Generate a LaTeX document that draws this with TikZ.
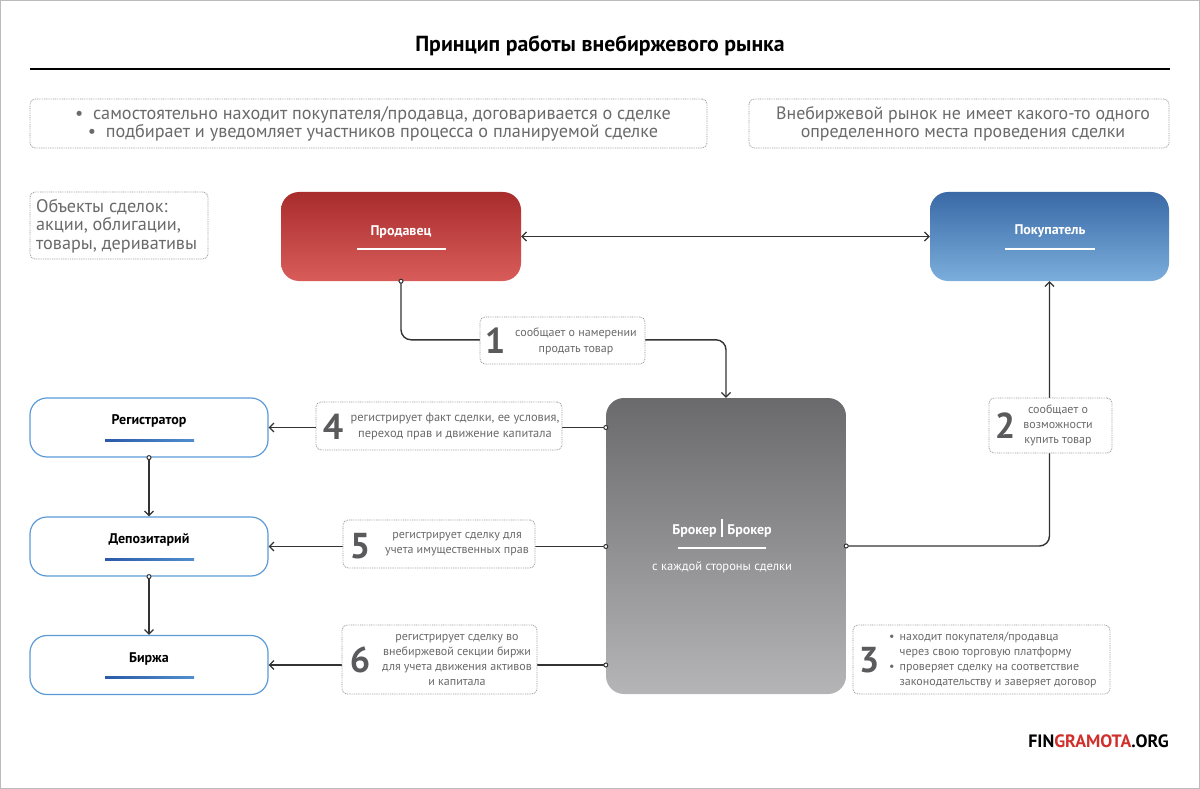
\documentclass[tikz,border=0pt]{standalone}
\usepackage{fontspec}
\setmainfont{PT Sans}
\usetikzlibrary{arrows.meta,calc}
\definecolor{lineC}{HTML}{333333}
\definecolor{noteC}{HTML}{9A9A9A}
\definecolor{noteT}{HTML}{6A6A6A}
\definecolor{numC}{HTML}{5A5A5C}
\definecolor{redTop}{HTML}{A92C2C}
\definecolor{redBot}{HTML}{D85D5A}
\definecolor{bluTop}{HTML}{3A69A6}
\definecolor{bluBot}{HTML}{7BAEDC}
\definecolor{grTop}{HTML}{6A6A6C}
\definecolor{grBot}{HTML}{B5B5B7}
\definecolor{blueB}{HTML}{5B9BD8}
\definecolor{blueL}{HTML}{2B5AA8}
\definecolor{logoR}{HTML}{D0302B}
\definecolor{frameC}{HTML}{BBBBBB}
\begin{document}
\begin{tikzpicture}[x=1pt,y=-1pt,
  conn/.style={draw=lineC, line width=1.4pt, rounded corners=10pt},
  dottip/.style={{Circle[length=5pt,fill=white,line width=1pt]}-{Straight Barb[length=4.5pt,width=9pt,line width=1.2pt]}, shorten <=-2.5pt},
  bothtip/.style={{Straight Barb[length=4.5pt,width=9pt,line width=1.2pt]}-{Straight Barb[length=4.5pt,width=9pt,line width=1.2pt]}},
  note/.style={draw=noteC, dash pattern=on 0.9pt off 0.9pt, line width=0.8pt, rounded corners=5pt, fill=white, inner sep=0pt},
  mainbox/.style={rounded corners=18pt, inner sep=0pt, shading=axis},
  bluebox/.style={draw=blueB, line width=1.2pt, fill=white, rounded corners=17pt, inner sep=0pt, minimum width=238pt, minimum height=59pt},
  numtxt/.style={text=numC, font=\bfseries\fontsize{36}{36}\selectfont, inner sep=0pt},
  smalltxt/.style={text=noteT, font=\fontsize{12}{15}\selectfont, align=center, inner sep=0pt},
  bigtxt/.style={text=noteT, font=\fontsize{18.2}{18.6}\selectfont, align=center, inner sep=0pt},
  wtitle/.style={text=white, font=\bfseries\fontsize{14}{16}\selectfont, inner sep=0pt},
  btitle/.style={text=black, font=\bfseries\fontsize{14}{16}\selectfont, inner sep=0pt}
]
\useasboundingbox (0,0) rectangle (1200,789);
\draw[frameC, line width=1pt] (0.5,0.5) rectangle (1199.5,788.5);

% title
\node[anchor=base, font=\bfseries\fontsize{21.8}{24}\selectfont, inner sep=0pt] (title) at (600,51.5) {Принцип работы внебиржевого рынка};
\draw[black, line width=1.4pt] (30,69) -- (1170,69);

% top notes
\node[note, minimum width=677pt, minimum height=49pt] (topL) at (368.5,123.5) {};
\node[bigtxt] (topLt) at (373,124) {•\ \ самостоятельно находит покупателя/продавца, договаривается о сделке\\ •\ \ подбирает и уведомляет участников процесса о планируемой сделке};
\node[note, minimum width=420pt, minimum height=49pt] (topR) at (959,123.5) {};
\node[bigtxt, font=\fontsize{17.9}{18.6}\selectfont] (topRt) at (963,124) {Внебиржевой рынок не имеет какого-то одного\\ определенного места проведения сделки};
\node[note, minimum width=178pt, minimum height=67pt] (objs) at (119,225.5) {};
\node[bigtxt, align=left, anchor=west] (objst) at (36,226) {Объекты сделок:\\ акции, облигации,\\ товары, деривативы};

% main boxes
\node[mainbox, top color=redTop, bottom color=redBot, minimum width=240pt, minimum height=89pt] (seller) at (401,236.5) {};
\node[mainbox, top color=bluTop, bottom color=bluBot, minimum width=239pt, minimum height=89pt] (buyer) at (1049.5,236.5) {};
\node[mainbox, top color=grTop, bottom color=grBot, minimum width=240pt, minimum height=296pt] (broker) at (726,546) {};

\node[wtitle] (sellerT) at (401,231.5) {Продавец};
\draw[white, line width=2pt] (357,249) -- (446,249);
\node[wtitle] (buyerT) at (1050,231.5) {Покупатель};
\draw[white, line width=2pt] (1005,249) -- (1095,249);
\node[wtitle] (brokerT) at (722,528) {Брокер\hspace{4.5pt}\raisebox{-3pt}{\rule{1.6pt}{18pt}}\hspace{4.5pt}Брокер};
\draw[white, line width=2pt] (678,548) -- (766,548);
\node[text=white, font=\fontsize{12.5}{14}\selectfont, inner sep=0pt] (brokerS) at (722,567) {с каждой стороны сделки};

% left blue boxes
\node[bluebox] (reg) at (149,427.5) {};
\node[bluebox] (dep) at (149,546.5) {};
\node[bluebox] (exch) at (149,665) {};
\node[btitle] (regT) at (149,421) {Регистратор};
\node[btitle] (depT) at (149,540) {Депозитарий};
\node[btitle] (exchT) at (149,659) {Биржа};
\shade[left color=blueL, right color=blueB!80!blueL] (105,439) rectangle (194,441);
\shade[left color=blueL, right color=blueB!80!blueL] (105,558) rectangle (194,560);
\shade[left color=blueL, right color=blueB!80!blueL] (105,676) rectangle (194,678);

% connectors
\draw[conn, bothtip] (seller.east) -- (buyer.west);
\draw[conn, dottip] (seller.south) |- ($(broker.north)+(0,-58)$) -- (broker.north);
\draw[conn, dottip] (broker.east) -| (buyer.south);
\draw[conn, dottip] (broker.west |- reg.east) -- (reg.east);
\draw[conn, dottip] (broker.west |- dep.east) -- (dep.east);
\draw[conn, dottip] (broker.west |- exch.east) -- (exch.east);
\draw[conn, dottip] (reg.south) -- (dep.north);
\draw[conn, dottip] (dep.south) -- (exch.north);

% step notes
\node[note, minimum width=165pt, minimum height=47pt] (n1) at (562.5,340.5) {};
\node[numtxt] (n1n) at (495,341) {1};
\node[smalltxt, font=\fontsize{12}{15.8}\selectfont] (n1t) at (576,341) {сообщает о намерении\\ продать товар};

\node[note, minimum width=123pt, minimum height=55pt] (n2) at (1050.5,425.5) {};
\node[numtxt] (n2n) at (1005,426) {2};
\node[smalltxt] (n2t) at (1058,425.5) {сообщает о\\ возможности\\ купить товар};

\node[note, minimum width=257pt, minimum height=69pt] (n3) at (981.5,659.5) {};
\node[numtxt] (n3n) at (869,660) {3};
\node[smalltxt, anchor=west] (n3t) at (889,660) {\begin{tabular}{@{}l@{\hspace{5pt}}l@{}}•&находит покупателя/продавца\\ &через свою торговую платформу\\ •&проверяет сделку на соответствие\\ &законодательству и заверяет договор\end{tabular}};

\node[note, minimum width=246pt, minimum height=48pt] (n4) at (439,426) {};
\node[numtxt] (n4n) at (333,427) {4};
\node[smalltxt, font=\fontsize{12.4}{16}\selectfont] (n4t) at (455,426) {регистрирует факт сделки, ее условия,\\ переход прав и движение капитала};

\node[note, minimum width=192pt, minimum height=48pt] (n5) at (439,544) {};
\node[numtxt] (n5n) at (360,546) {5};
\node[smalltxt] (n5t) at (457,544.5) {регистрирует сделку для\\ учета имущественных прав};

\node[note, minimum width=195pt, minimum height=69pt] (n6) at (439.5,659.5) {};
\node[numtxt] (n6n) at (360,660) {6};
\node[smalltxt] (n6t) at (457,660) {регистрирует сделку во\\ внебиржевой секции биржи\\ для учета движения активов\\ и капитала};

% logo
\node[anchor=east, inner sep=0pt, font=\bfseries\fontsize{17.9}{19}\selectfont] (logo) at (1169,741) {FIN\textcolor{logoR}{GRAMOTA}.ORG};
\end{tikzpicture}
\end{document}
